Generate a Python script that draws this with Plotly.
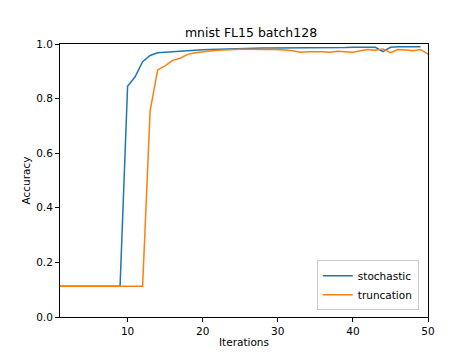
import plotly.graph_objects as go

iterations = list(range(1, 51))
stochastic = [0.113]*9 + [0.845, 0.88, 0.935, 0.958, 0.968, 0.97, 0.973, 0.975, 0.977, 0.978,
              0.979, 0.98, 0.981, 0.982, 0.983, 0.984, 0.985, 0.985, 0.985, 0.985,
              0.985, 0.985, 0.986, 0.986, 0.986, 0.986, 0.987, 0.987, 0.987, 0.987,
              0.988, 0.988, 0.988, 0.988, 0.972, 0.988, 0.99, 0.99, 0.989, 0.99]
truncation = [0.113]*12 + [0.755, 0.905, 0.92, 0.94, 0.948, 0.962, 0.968, 0.972, 0.974, 0.977,
              0.979, 0.98, 0.981, 0.981, 0.98, 0.98, 0.981, 0.98, 0.978, 0.975,
              0.97, 0.972, 0.973, 0.972, 0.97, 0.973, 0.972, 0.97, 0.975, 0.98,
              0.977, 0.982, 0.968, 0.98, 0.978, 0.975, 0.98, 0.963]
x_ticks = [10, 20, 30, 40, 50]
y_ticks = [0.0, 0.2, 0.4, 0.6, 0.8, 1.0]
y_tick_labels = ["0.0", "0.2", "0.4", "0.6", "0.8", "1.0"]

fig = go.Figure()
fig.add_trace(go.Scatter(x=iterations, y=stochastic, mode="lines", name="stochastic",
                         line=dict(color="#1f77b4", width=1.5)))
fig.add_trace(go.Scatter(x=iterations, y=truncation, mode="lines", name="truncation",
                         line=dict(color="#ff7f0e", width=1.5)))

axis_common = dict(showline=True, linecolor="black", linewidth=1, mirror=True,
                   ticks="outside", ticklen=4, tickcolor="black", showgrid=False,
                   zeroline=False, tickfont=dict(size=10.5, color="black"))
fig.update_layout(
    width=474, height=355,
    margin=dict(l=52, r=54, t=36, b=46),
    paper_bgcolor="white", plot_bgcolor="white",
    font=dict(family="DejaVu Sans", size=10.5, color="black"),
    title=dict(text="mnist FL15 batch128", x=0.5127, xanchor="center", y=0.931, yanchor="middle",
               font=dict(size=12.5)),
    xaxis=dict(range=[1, 50], tickvals=x_ticks,
               title=dict(text="Iterations", standoff=3, font=dict(size=10.5)), **axis_common),
    yaxis=dict(range=[0, 1], tickvals=y_ticks, ticktext=y_tick_labels,
               title=dict(text="Accuracy", standoff=3, font=dict(size=10.5)), **axis_common),
    legend=dict(x=0.975, y=0.025, xanchor="right", yanchor="bottom",
                bgcolor="rgba(255,255,255,0.8)", bordercolor="#cccccc", borderwidth=1,
                font=dict(size=10.5), tracegroupgap=0, itemwidth=30),
    showlegend=True,
)

fig.write_html("out.html")
